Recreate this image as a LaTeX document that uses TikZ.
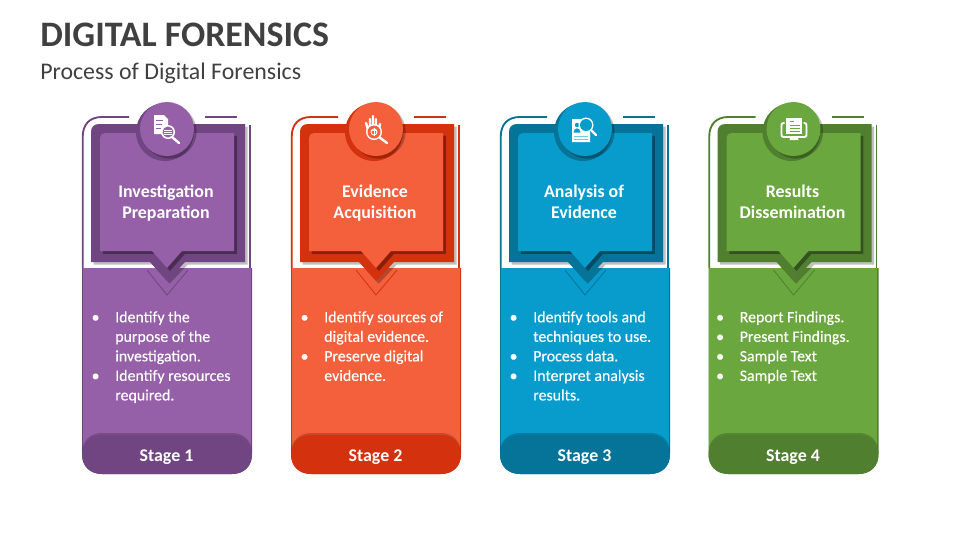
\documentclass[tikz,border=0pt]{standalone}
\usepackage{fontspec}
\usepackage{xcolor}
\setmainfont{Carlito}
\newfontfamily\listfont[FakeBold=0.25]{Carlito}
\usetikzlibrary{shadows}

\definecolor{inkgrey}{HTML}{404040}
\definecolor{plum}{HTML}{9560A8}
\definecolor{plumdark}{HTML}{714582}
\definecolor{coral}{HTML}{F4603C}
\definecolor{coraldark}{HTML}{D4310E}
\definecolor{ocean}{HTML}{089CCC}
\definecolor{oceandark}{HTML}{067399}
\definecolor{leaf}{HTML}{6BA73F}
\definecolor{leafdark}{HTML}{517F30}

\tikzset{
    headtext/.style = {text = white, align = center, inner sep = 0, anchor = north,
        font = \fontsize{13.4}{15.8}\selectfont\bfseries},
    stagetext/.style = {text = white, inner sep = 0, anchor = base,
        font = \fontsize{13.4}{15.8}\selectfont\bfseries},
    listtext/.style = {text = white, align = left, inner sep = 0, anchor = north west,
        font = \fontsize{11.9}{14.65}\listfont},
    greyshade/.style = {drop shadow = {shadow xshift = 2pt, shadow yshift = -2pt,
        opacity = .25, fill = black}},
    iconline/.style = {line width = .7pt, cardmain},
    iconhandle/.style = {white, line width = 1.8pt, line cap = round}
}

\newcommand{\bul}{\leavevmode\llap{\textbullet\hspace{11.8pt}}}

%% card: x shift, name, main colour, dark colour, heading, list, stage, icon
\newcommand{\stagecard}[8]{
    \begin{scope}[shift = {(#1, 0)}]
        \colorlet{cardmain}{#3}
        \colorlet{carddark}{#4}
        %% outline
        \draw[carddark, line width = 1.4pt] (0.7, 268) -- (0.7, 137)
            .. controls (0.7, 124) and (8, 117) .. (20, 117) -- (47, 117);
        \draw[carddark, line width = 1.4pt] (123, 117) -- (155, 117);
        \draw[carddark, line width = 1.4pt] (168, 125) -- (168, 268);
        %% body
        \fill[carddark] (0, 268) -- (170, 268) -- (170, 454)
            .. controls (170, 466) and (162, 474) .. (150, 474) -- (20, 474)
            .. controls (8, 474) and (0, 466) .. (0, 454) -- cycle;
        \fill[cardmain] (0.8, 268) -- (168.8, 268) -- (168.8, 450) -- (0.8, 450) -- cycle;
        \draw[carddark, line width = .6pt] (65, 270) -- (85, 295) -- (106, 270);
        %% stage band
        \fill[black, opacity = .2] (0, 453) .. controls (0, 441) and (8, 433) .. (20, 433)
            -- (150, 433) .. controls (162, 433) and (170, 441) .. (170, 453) -- cycle;
        \fill[carddark] (0, 455) .. controls (0, 443) and (8, 435) .. (20, 435)
            -- (150, 435) .. controls (162, 435) and (170, 443) .. (170, 455)
            .. controls (170, 466) and (162, 474) .. (150, 474) -- (20, 474)
            .. controls (8, 474) and (0, 466) .. (0, 455) -- cycle;
        \node[stagetext] (#2-stage) at (84.5, 461) {#7};
        %% panels
        \fill[carddark, greyshade] (9, 262) -- (9, 132)
            .. controls (9, 127) and (12, 124) .. (17, 124) -- (163, 124) -- (163, 262)
            -- (103, 262) -- (85, 281) -- (68, 262) -- cycle;
        \fill[cardmain, drop shadow = {shadow xshift = 2.2pt, shadow yshift = -2.2pt,
                opacity = .35, fill = black}]
            (18, 251) -- (18, 138)
            .. controls (18, 135) and (20, 133) .. (23, 133) -- (152, 133) -- (152, 251)
            -- (100, 251) -- (85, 268) -- (70, 251) -- cycle;
        \node[headtext] (#2-head) at (84, 185) {#5};
        %% list
        \node[listtext] (#2-list) at (33, 311) {#6};
        %% icon
        \fill[carddark] (83, 132) circle (29);
        \node[circle, fill = cardmain, minimum size = 40.5pt, inner sep = 0, greyshade]
            (#2-icon) at (85, 129) {};
        \begin{scope}[shift = {(85, 129)}]
            #8
        \end{scope}
    \end{scope}
}

\begin{document}
\begin{tikzpicture}[x = .75pt, y = -.75pt]
    \useasboundingbox (0, 0) rectangle (960, 540);

    %% titles
    \node[anchor = west, inner sep = 0, text = inkgrey, font = \fontsize{26.9}{30}\selectfont\bfseries]
        (title) at (40, 35) {DIGITAL FORENSICS};
    \node[anchor = west, inner sep = 0, text = inkgrey, font = \fontsize{17.9}{20}\selectfont]
        (subtitle) at (40, 73) {Process of Digital Forensics};

    %% stage 1
    \stagecard{82}{one}{plum}{plumdark}{Investigation\\Preparation}
        {\bul Identify the\\purpose of the\\investigation.\\\bul Identify resources\\required.}
        {Stage 1}
        {
            \fill[white] (-13, -14) -- (-3, -14) -- (1, -10) -- (1, 5) -- (-13, 5) -- cycle;
            \draw[iconline] (-11, -9) -- (-4, -9) (-11, -5) -- (-5, -5) (-11, -1) -- (-6, -1);
            \draw[iconhandle] (5, 8) -- (12, 14);
            \fill[white] (1, 3) circle (7);
            \fill[cardmain] (1, 3) circle (5.5);
            \draw[white, line width = .6pt] (-3, 1) -- (5, 1) (-3, 3) -- (5, 3) (-3, 5) -- (5, 5);
        }

    %% stage 2
    \stagecard{291}{two}{coral}{coraldark}{Evidence\\Acquisition}
        {\bul Identify sources of\\digital evidence.\\\bul Preserve digital\\evidence.}
        {Stage 2}
        {
            \draw[white, line width = 1.8pt, line cap = round]
                (-8, 0) -- (-10, -6) (-6, 0) -- (-6, -10) (-3, 0) -- (-3, -13)
                (0, 0) -- (0, -10) (3, 0) -- (4, -5);
            \fill[white] (-10, -2) -- (3, -2) -- (4, 8) -- (-1, 11) -- (-7, 9) -- cycle;
            \draw[iconhandle] (3, 8) -- (11, 14);
            \fill[white] (-2, 3) circle (8);
            \fill[cardmain] (-2, 3) circle (6.5);
            \draw[white, line width = .7pt] (-2, 3) circle (3);
            \draw[white, line width = .7pt] (-4.5, 1) -- (0.5, 1) (-2, -1) -- (-2, 7);
        }

    %% stage 3
    \stagecard{500}{three}{ocean}{oceandark}{Analysis of\\Evidence}
        {\bul Identify tools and\\techniques to use.\\\bul Process data.\\\bul Interpret analysis\\results.}
        {Stage 3}
        {
            \fill[white] (-13, -10) -- (3, -10) -- (5, -8) -- (5, 13) -- (-13, 13) -- cycle;
            \fill[cardmain] (-8, -4) circle (2.2);
            \fill[cardmain] (-11.5, 3.5) .. controls (-11, -2) and (-5, -2) .. (-4.5, 3.5) -- cycle;
            \draw[iconline, cardmain!55!white] (-11, 7) -- (3, 7) (-11, 10) -- (3, 10);
            \draw[iconhandle] (6, 1) -- (11, 6);
            \fill[white] (1, -4) circle (7.5);
            \fill[cardmain] (1, -4) circle (6);
        }

    %% stage 4
    \tikzset{listtext/.append style = {xshift = -1.5pt}}
    \stagecard{708.5}{four}{leaf}{leafdark}{Results\\Dissemination}
        {\bul Report Findings.\\\bul Present Findings.\\\bul Sample Text\\\bul Sample Text}
        {Stage 4}
        {
            \draw[white, line width = 1.4pt, rounded corners = 1.5pt] (-9, -6) -- (-12, -6) -- (-12, 8) -- (13, 8) -- (13, -6) -- (10, -6);
            \fill[white] (-3, 8) -- (4, 8) -- (5, 11) -- (-4, 11) -- cycle;
            \draw[cardmain, fill = white, line width = .8pt] (-8, -12) -- (9, -12) -- (9, 6) -- (-8, 6) -- cycle;
            \draw[iconline] (-4, -8) -- (0, -8) (-4, -4) -- (6, -4) (-4, -1) -- (6, -1) (-4, 2) -- (6, 2);
        }
\end{tikzpicture}
\end{document}
